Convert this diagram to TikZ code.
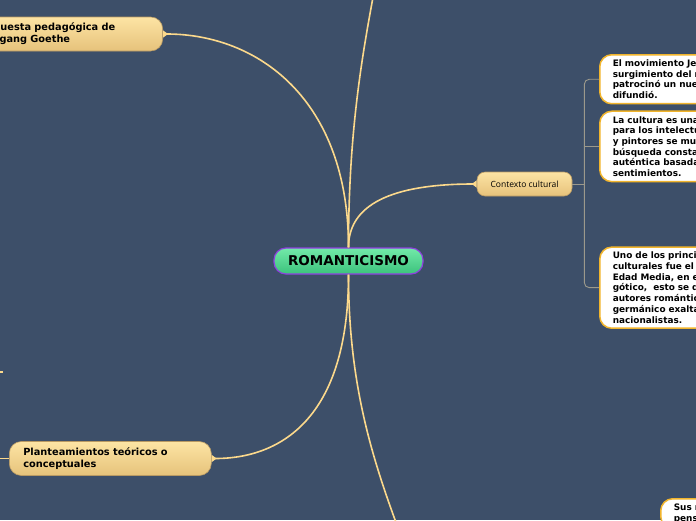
\documentclass[tikz,border=0pt]{standalone}
\usepackage{fontspec}
\setmainfont{DejaVu Sans}
\newfontfamily\notefont{Open Sans}
\usetikzlibrary{positioning}
\usetikzlibrary{arrows.meta}
\definecolor{board}{HTML}{3D4F69}
\definecolor{wire}{HTML}{FCD98C}
\definecolor{twiggray}{HTML}{9C998C}
\definecolor{sandtop}{HTML}{FDE4A4}
\definecolor{sandbot}{HTML}{E6C27B}
\definecolor{sandline}{HTML}{B99A63}
\definecolor{mint}{HTML}{72EAA9}
\definecolor{mintdark}{HTML}{3CC27C}
\definecolor{rompurple}{HTML}{8E3FDF}
\definecolor{amber}{HTML}{F2B52C}
\tikzset{centre/.style={draw=rompurple, line width=1.2pt, rounded corners=12pt, top color=mint, bottom color=mintdark, minimum width=149pt, minimum height=26pt, font=\fontsize{13.5}{15}\selectfont\bfseries}}
\tikzset{branch/.style={draw=sandline, line width=0.6pt, rounded corners=12pt, top color=sandtop, bottom color=sandbot, text width=174pt, inner xsep=14pt, minimum height=34pt, align=left, font=\fontsize{9.8}{12}\selectfont\bfseries}}
\tikzset{topic/.style={draw=sandline, line width=0.6pt, rounded corners=8pt, top color=sandtop, bottom color=sandbot, minimum width=95pt, minimum height=24pt, font=\notefont\fontsize{8.5}{10}\selectfont}}
\tikzset{leaf/.style={draw=amber, line width=1.5pt, fill=white, rounded corners=12pt, text width=200pt, inner xsep=13pt, inner ysep=5pt, align=left, font=\fontsize{8.9}{10.7}\selectfont\bfseries}}
\tikzset{link/.style={draw=wire, line width=1.6pt, -{Triangle[reversed,length=5pt,width=7pt]}}}
\tikzset{twig/.style={draw=twiggray, line width=0.9pt, rounded corners=5pt}}

\begin{document}
\begin{tikzpicture}[x=1pt, y=-1pt]
\useasboundingbox (0,0) rectangle (696,520);
\fill[board] (0,0) rectangle (696,520);
\clip (0,0) rectangle (696,520);
\node [centre] (roman) at (348.5,261) {ROMANTICISMO};
\node [branch, anchor=east] (goethe) at (163,34) {Propuesta pedagógica de\\Wolfgang Goethe};
\node [branch, anchor=west] (teoria) at (9,458.5) {Planteamientos teóricos o\\conceptuales};
\node [topic] (contexto) at (524.5,184) {Contexto cultural};
\node [leaf, anchor=north west] (jena) at (599,54) {El movimiento Jena\\surgimiento del nuevo\\patrocinó un nuevo\\difundió.};
\node [leaf] (cultura) [below right=6pt and 0pt of jena.south west] {La cultura es una\\para los intelectuales\\y pintores se muestran\\búsqueda constante\\auténtica basada en\\sentimientos.};
\node [leaf] (gotico) [below right=64pt and 0pt of cultura.south west] {Uno de los principales\\culturales fue el\\Edad Media, en el\\gótico,\ \ esto se debe\\autores románticos\\germánico exaltaba\\nacionalistas.};
\node [leaf, anchor=north west, text width=60pt] (raices) at (660,498) {Sus raíces\\pensamiento};
\coordinate (up) at (380,-40);
\coordinate (down) at (410,560);
\coordinate (farleft) at (-20,458.5);
\coordinate (stubA) at (-20,372);
\coordinate (stubB) at (3,372);
%Edge
\draw[link] (roman.north) .. controls +(0,-148) and +(95,0) .. (goethe.east);
\draw[link] (roman.north) .. controls +(0,-48) and +(-74,0) .. (contexto.west);
\draw[link] (roman.south) .. controls +(0,146) and +(67,0) .. (teoria.east);
\draw[wire, line width=1.6pt] (roman.north) .. controls +(0,-128) and (365,40) .. (up);
\draw[wire, line width=1.6pt] (roman.south) .. controls +(0,126) and (380,480) .. (down);
\draw[wire, line width=1.6pt] (teoria.west) -- (farleft);
\draw[wire, line width=1.2pt] (stubA) -- (stubB);
\draw[twig] (contexto.east) -- ++(12,0) coordinate (fork);
\draw[twig] (jena.west) -| (fork) |- (gotico.west);
\draw[twig] (cultura.west) -- (cultura.west -| fork);
\end{tikzpicture}
\end{document}
